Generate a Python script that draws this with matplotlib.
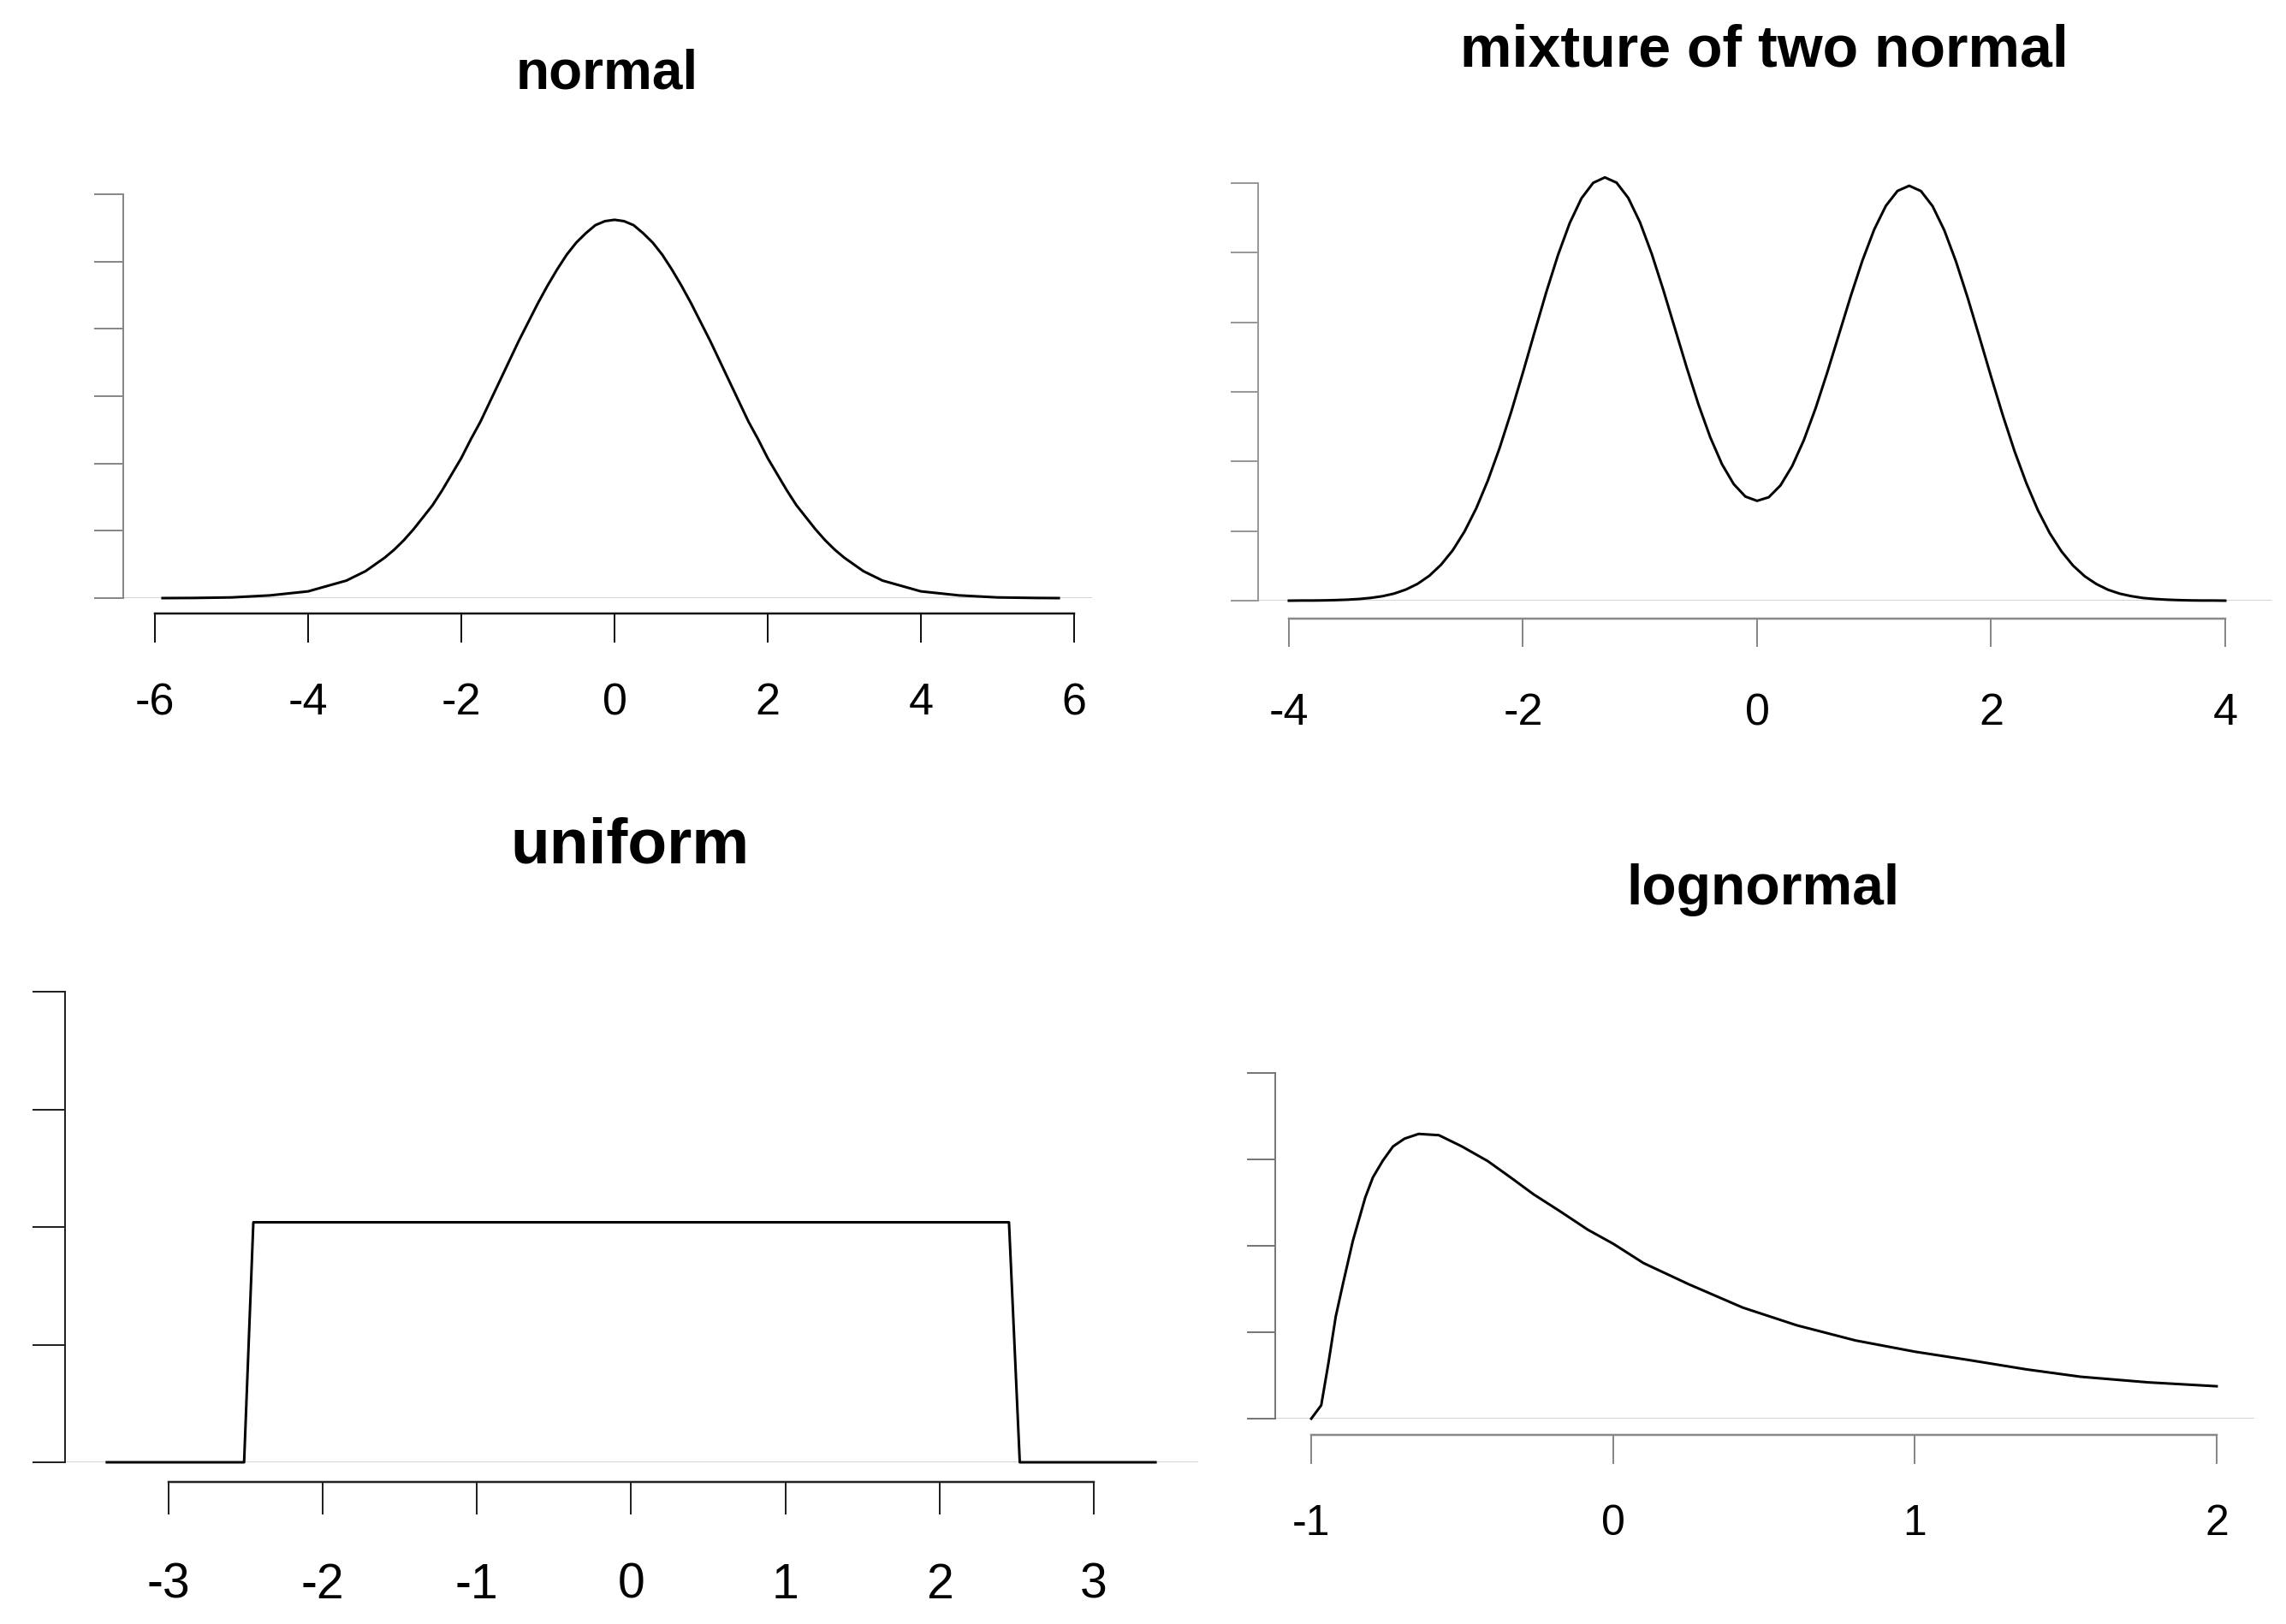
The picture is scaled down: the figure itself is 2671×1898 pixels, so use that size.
import matplotlib
matplotlib.use("Agg")
import matplotlib.pyplot as plt

plt.rcParams['font.family'] = ['Liberation Sans', 'DejaVu Sans']
plt.rcParams['axes.unicode_minus'] = False

W, H = 2671, 1899
DPI = 100
PT = 72.0 / DPI  # points per pixel

# ---- data ----
normal_x = [-5.9, -5.5, -5.0, -4.5, -4.0, -3.75, -3.5, -3.25, -3.0, -2.875, -2.75, -2.625,
            -2.5, -2.375, -2.25, -2.125, -2.0, -1.875, -1.75, -1.625, -1.5, -1.375, -1.25,
            -1.125, -1.0, -0.875, -0.75, -0.625, -0.5, -0.375, -0.25, -0.125, 0.0,
            0.125, 0.25, 0.375, 0.5, 0.625, 0.75, 0.875, 1.0, 1.125, 1.25, 1.375, 1.5,
            1.625, 1.75, 1.875, 2.0, 2.125, 2.25, 2.375, 2.5, 2.625, 2.75, 2.875, 3.0,
            3.25, 3.5, 3.75, 4.0, 4.5, 5.0, 5.5, 5.8]
normal_y = [0.0, 0.0001, 0.0005, 0.002, 0.005, 0.009, 0.013, 0.020, 0.030, 0.036, 0.043, 0.051,
            0.060, 0.069, 0.080, 0.092, 0.104, 0.118, 0.131, 0.146, 0.161, 0.176, 0.191,
            0.205, 0.219, 0.232, 0.244, 0.255, 0.264, 0.271, 0.277, 0.280, 0.281,
            0.280, 0.277, 0.271, 0.264, 0.255, 0.244, 0.232, 0.219, 0.205, 0.191, 0.176, 0.161,
            0.146, 0.131, 0.118, 0.104, 0.092, 0.080, 0.069, 0.060, 0.051, 0.043, 0.036, 0.030,
            0.020, 0.013, 0.009, 0.005, 0.002, 0.0005, 0.0001, 0.0]

mix_x = [-4.0, -3.9, -3.8, -3.7, -3.6, -3.5, -3.4, -3.3, -3.2, -3.1, -3.0, -2.9, -2.8, -2.7,
         -2.6, -2.5, -2.4, -2.3, -2.2, -2.1, -2.0, -1.9, -1.8, -1.7, -1.6, -1.5, -1.4, -1.3,
         -1.2, -1.1, -1.0, -0.9, -0.8, -0.7, -0.6, -0.5, -0.4, -0.3, -0.2, -0.1, 0.0,
         0.1, 0.2, 0.3, 0.4, 0.5, 0.6, 0.7, 0.8, 0.9, 1.0, 1.1, 1.2, 1.3, 1.4, 1.5, 1.6,
         1.7, 1.8, 1.9, 2.0, 2.1, 2.2, 2.3, 2.4, 2.5, 2.6, 2.7, 2.8, 2.9, 3.0, 3.1, 3.2,
         3.3, 3.4, 3.5, 3.6, 3.7, 3.8, 3.9, 4.0]
mix_y = [0.0, 0.0001, 0.0001, 0.0002, 0.0004, 0.0007, 0.0012, 0.0020, 0.0032, 0.0051, 0.0080,
         0.0121, 0.0179, 0.0258, 0.0362, 0.0496, 0.0662, 0.0863, 0.1096, 0.1358, 0.1640,
         0.1932, 0.2219, 0.2485, 0.2714, 0.2891, 0.3002, 0.3041, 0.3003, 0.2893, 0.2718,
         0.2492, 0.2230, 0.1951, 0.1672, 0.1408, 0.1174, 0.0981, 0.0838, 0.0748, 0.0717,
         0.0743, 0.0828, 0.0967, 0.1154, 0.1382, 0.1640, 0.1913, 0.2187, 0.2443, 0.2665,
         0.2836, 0.2944, 0.2981, 0.2943, 0.2834, 0.2661, 0.2436, 0.2175, 0.1894, 0.1608,
         0.1331, 0.1074, 0.0846, 0.0649, 0.0486, 0.0355, 0.0252, 0.0175, 0.0119, 0.0078,
         0.0050, 0.0032, 0.0019, 0.0012, 0.0007, 0.0004, 0.0002, 0.0001, 0.0001, 0.0]

unif_x = [-3.4, -2.51, -2.45, 2.45, 2.52, 3.4]
unif_y = [0.0, 0.0, 0.204, 0.204, 0.0, 0.0]

logn_x = [-1.0, -0.967, -0.943, -0.919, -0.895, -0.862, -0.821, -0.796, -0.763, -0.729,
          -0.691, -0.644, -0.577, -0.501, -0.415, -0.339, -0.263, -0.178, -0.083, 0.0,
          0.101, 0.251, 0.430, 0.609, 0.803, 1.0, 1.176, 1.370, 1.549, 1.773, 2.0]
logn_y = [0.0, 0.031, 0.129, 0.236, 0.312, 0.412, 0.512, 0.558, 0.597, 0.630,
          0.648, 0.659, 0.656, 0.630, 0.596, 0.558, 0.519, 0.481, 0.437, 0.405,
          0.360, 0.311, 0.257, 0.216, 0.181, 0.155, 0.136, 0.114, 0.097, 0.084, 0.075]

normal_xticks = [-6, -4, -2, 0, 2, 4, 6]
mix_xticks = [-4, -2, 0, 2, 4]
unif_xticks = [-3, -2, -1, 0, 1, 2, 3]
logn_xticks = [-1, 0, 1, 2]

normal_yticks = [0, 0.05, 0.10, 0.15, 0.20, 0.25, 0.30]
mix_yticks = [0, 0.05, 0.10, 0.15, 0.20, 0.25, 0.30]
unif_yticks = [0, 0.1, 0.2, 0.3, 0.4]
logn_yticks = [0, 0.2, 0.4, 0.6, 0.8]

fig = plt.figure(figsize=(W / DPI, H / DPI), dpi=DPI)
fig.patch.set_facecolor('white')


def panel(box, xlim, yaxis_at, xs, ys, xticks, yticks, title, title_pos, title_size,
          lab_size, xoff, xtick_len, ytick_len, lab_pad, ycol, xcol):
    left, top, right, bottom = box
    ax = fig.add_axes([left / W, 1 - bottom / H, (right - left) / W, (bottom - top) / H])
    ax.set_xlim(xlim)
    ax.set_ylim(yticks[0], yticks[-1])
    ax.set_facecolor('none')
    ax.axhline(0, color='#d4d4d4', lw=2 * PT, zorder=1)
    ax.plot(xs, ys, color='black', lw=3 * PT, clip_on=False, zorder=3,
            solid_joinstyle='round')

    for s in ['top', 'right']:
        ax.spines[s].set_visible(False)
    ax.spines['left'].set_position(('data', yaxis_at))
    ax.spines['left'].set_bounds(yticks[0], yticks[-1])
    ax.spines['left'].set_color(ycol)
    ax.spines['left'].set_linewidth(2 * PT)
    ax.spines['bottom'].set_position(('outward', xoff * PT))
    ax.spines['bottom'].set_bounds(xticks[0], xticks[-1])
    ax.spines['bottom'].set_color(xcol)
    ax.spines['bottom'].set_linewidth(2.5 * PT)

    ax.set_yticks(yticks)
    ax.set_yticklabels([])
    ax.tick_params(axis='y', direction='out', length=ytick_len * PT, width=2 * PT, color=ycol)
    ax.set_xticks(xticks)
    ax.set_xticklabels([str(t) for t in xticks])
    ax.tick_params(axis='x', direction='out', length=xtick_len * PT, width=2 * PT,
                   color=xcol, labelsize=lab_size, pad=lab_pad * PT, labelcolor='black')

    fig.text(title_pos[0] / W, 1 - title_pos[1] / H, title, ha='center', va='baseline',
             fontsize=title_size, fontweight='bold')
    return ax


panel((110, 228, 1276, 700), (-6.793, 6.235), -6.413, normal_x, normal_y,
      normal_xticks, normal_yticks, 'normal', (709, 103), 46, 37.5,
      18, 34, 34, 45, '#888888', '#111111')

panel((1438, 215, 2654, 703), (-4.497, 4.395), -4.263, mix_x, mix_y,
      mix_xticks, mix_yticks, 'mixture of two normal', (2061, 78), 49, 37.5,
      21, 33, 32, 52, '#999999', '#888888')

panel((38, 1160, 1400, 1710), (-3.882, 3.677), -3.671, unif_x, unif_y,
      unif_xticks, unif_yticks, 'uniform', (736, 1009), 54, 41,
      23, 38, 38, 55, '#222222', '#222222')

panel((1457, 1255, 2634, 1659), (-1.213, 2.125), -1.119, logn_x, logn_y,
      logn_xticks, logn_yticks, 'lognormal', (2060, 1057), 47.5, 36,
      19, 34, 33, 46, '#777777', '#888888')

fig.savefig('out.png', dpi=DPI)
